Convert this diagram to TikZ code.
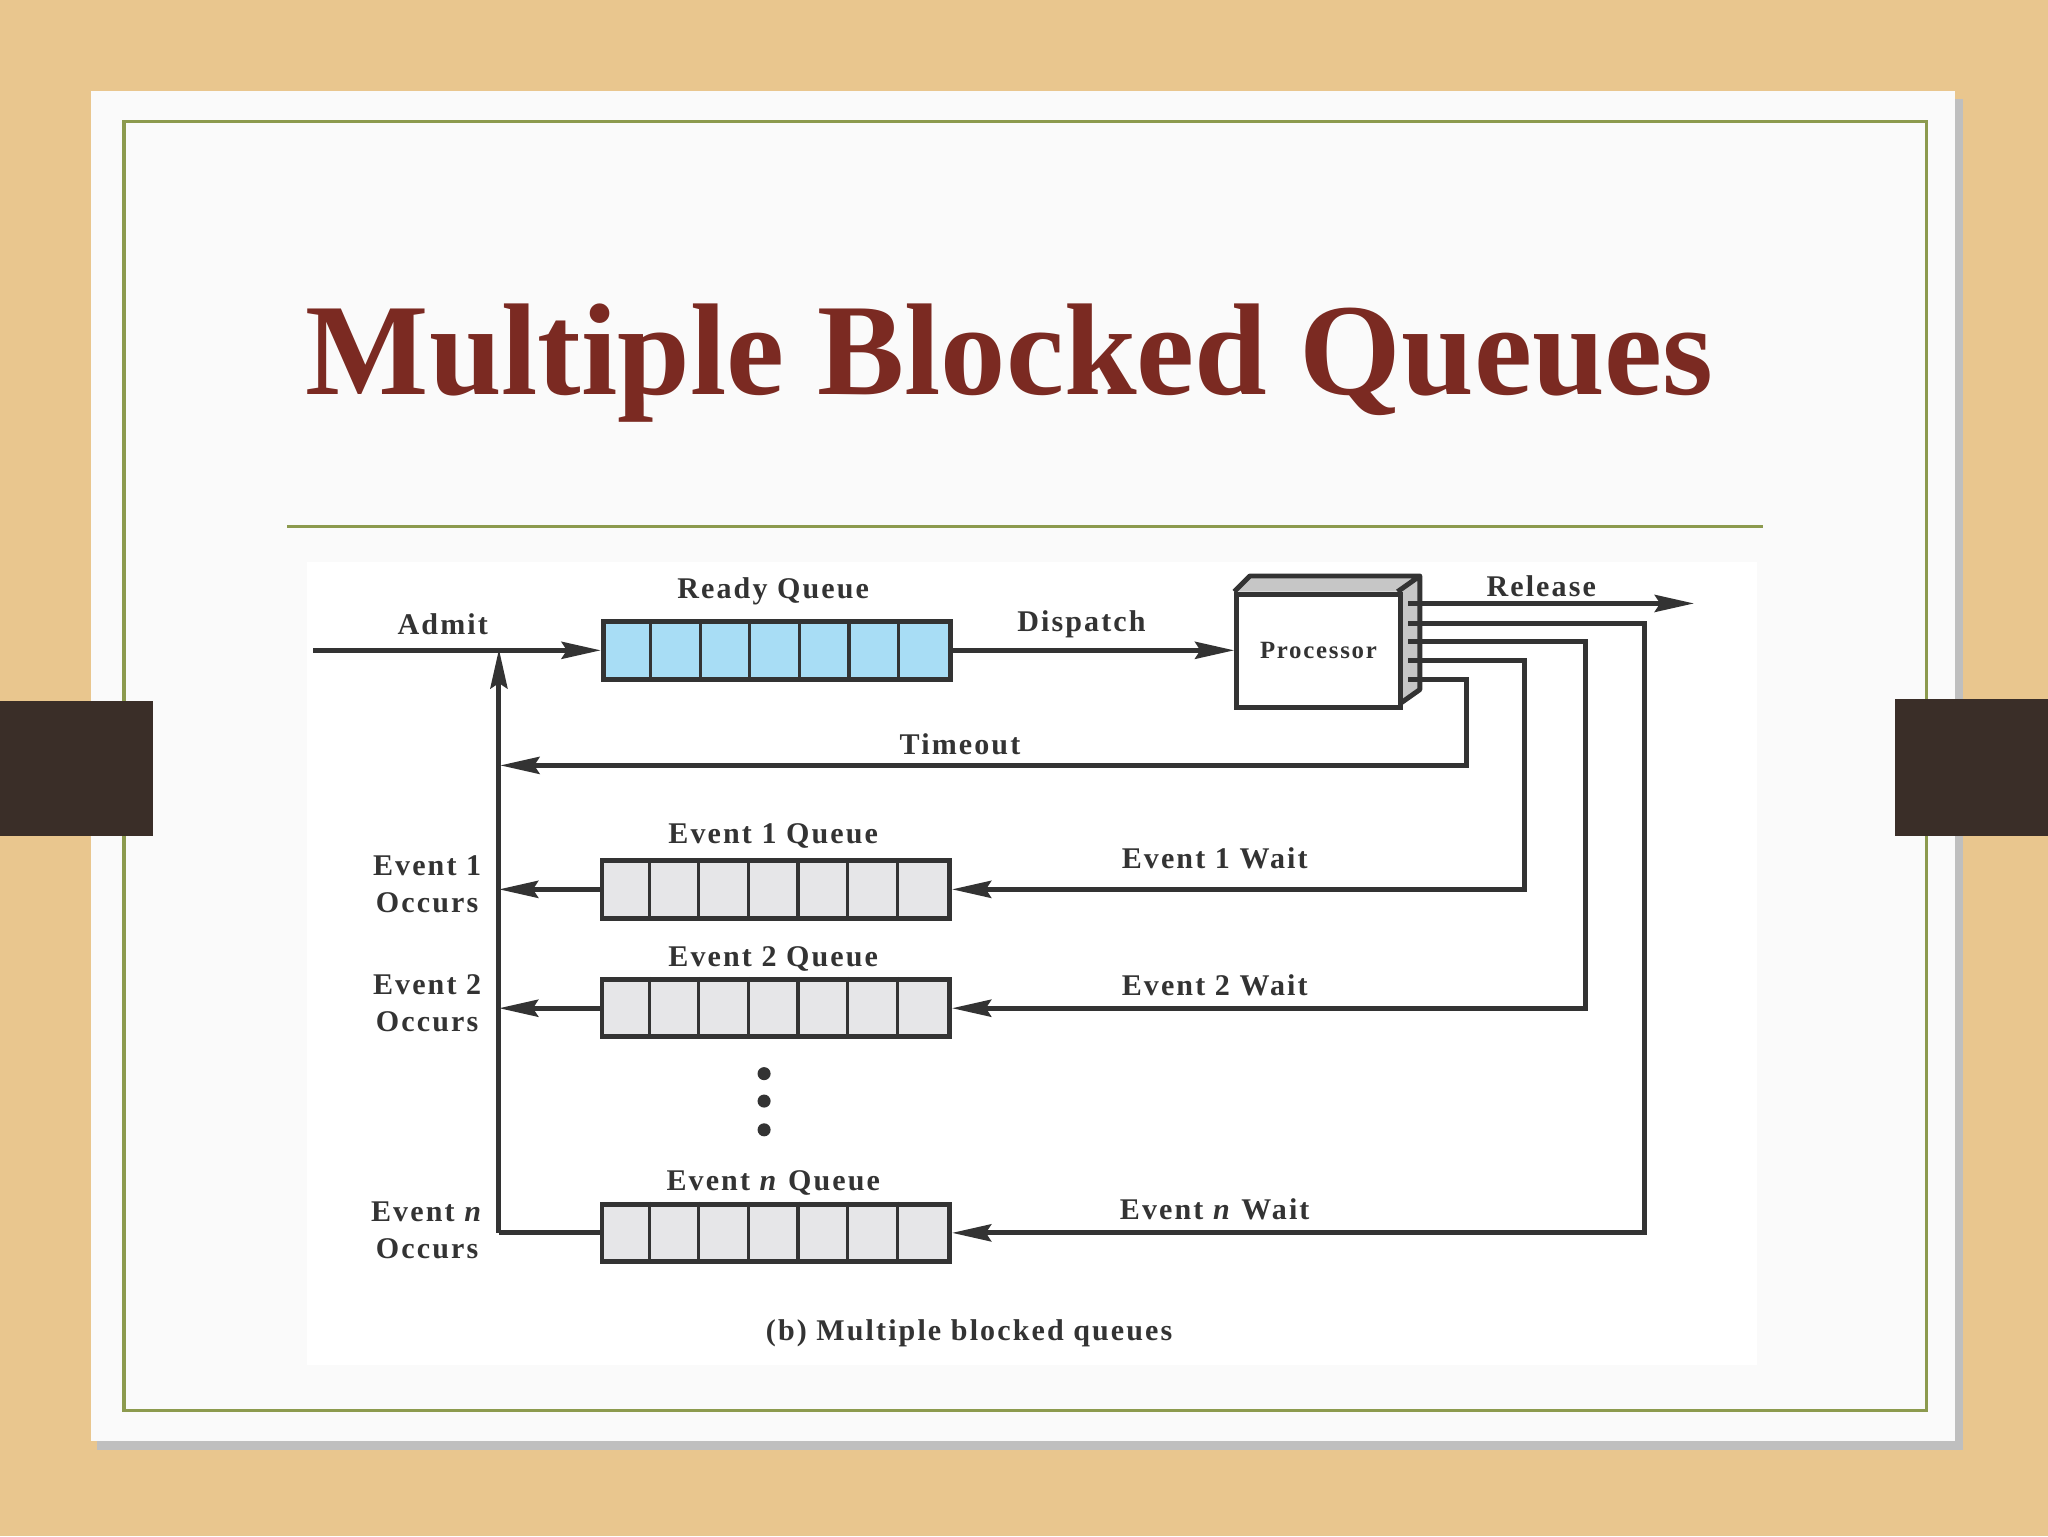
\documentclass[tikz,border=0pt]{standalone}
\usepackage{fontspec}
\setmainfont{Liberation Serif}
\newfontfamily\widefont[LetterSpace=7]{Liberation Serif}
\usetikzlibrary{arrows.meta,calc}
\definecolor{wood}{HTML}{E9C68E}
\definecolor{olive}{HTML}{8C9A4E}
\definecolor{titlered}{HTML}{7B2A22}
\definecolor{clipcol}{HTML}{3A2E28}
\definecolor{ln}{HTML}{333333}
\definecolor{qblue}{HTML}{A8DDF5}
\definecolor{qgray}{HTML}{E6E6E8}
\tikzset{
  wire/.style={draw=ln,line width=3.8pt},
  arr/.style={wire,-{Stealth[length=30pt,width=13pt,inset=4pt]}},
  lbl/.style={font=\widefont\bfseries\fontsize{23}{26}\selectfont,text=ln,inner sep=0pt},
  qbox/.style={draw=ln,line width=3.8pt,minimum width=266pt,minimum height=44pt,inner sep=0pt},
}
\begin{document}
\begin{tikzpicture}[x=1pt,y=-1pt]
\useasboundingbox (0,0) rectangle (1568,1176);
\fill[wood] (0,0) rectangle (1568,1176);
\fill[black!25] (74,76) rectangle (1503,1110);
\fill[white!96!gray] (70,70) rectangle (1497,1103);
\draw[olive,line width=2.5pt] (95,93) rectangle (1475,1080);
\node[font=\bfseries\fontsize{100}{110}\selectfont,text=titlered] (title) at (773,278) {Multiple Blocked Queues};
\draw[olive,line width=2pt] (220,403) -- (1350,403);
\fill[clipcol] (0,537) rectangle (117,640);
\fill[clipcol] (1451,535) rectangle (1568,640);
\fill[white] (235,430) rectangle (1345,1045);
% queues
\node[qbox,fill=qblue,anchor=north west] (rq) at (460,474) {};
\node[qbox,fill=qgray,anchor=north west] (q1) at (459,657) {};
\node[qbox,fill=qgray,anchor=north west] (q2) at (459,748) {};
\node[qbox,fill=qgray,anchor=north west] (qn) at (459,920) {};
\foreach \q in {rq,q1,q2,qn}{
  \foreach \i in {1,...,6}{
    \draw[ln,line width=2.4pt] ($(\q.north west)+(38*\i,0)$) -- ($(\q.south west)+(38*\i,0)$);
  }
}
% processor
\fill[gray!45] (945,453) -- (957,441) -- (1087,441) -- (1070,453) -- cycle;
\fill[gray!45] (1070,453) -- (1087,441) -- (1087,528) -- (1070,540) -- cycle;
\draw[ln,line width=3.8pt,line join=round] (945,453) -- (957,441) -- (1087,441) -- (1087,528) -- (1070,540) (1070,453) -- (1087,441);
\node[draw=ln,line width=3.8pt,fill=white,minimum width=125pt,minimum height=87pt,anchor=north west,inner sep=0pt] (proc) at (945,453) {};
\node[lbl,font=\widefont\bfseries\fontsize{19}{22}\selectfont] (proct) at (proc.center) {Processor};
% coordinates
\coordinate (adm) at (240,495.5);
\coordinate (rel) at (1297,462);
\coordinate (p1) at (1078,462);
\coordinate (p2) at (1078,477);
\coordinate (p3) at (1078,491);
\coordinate (p4) at (1078,506);
\coordinate (p5) at (1078,520);
\coordinate (vtop) at (382,497);
\coordinate (vbot) at (382,942);
\coordinate (tout) at (383,586);
% connectors
\draw[arr] (adm |- rq.west) -- (rq.west);
\draw[arr] (rq.east) -- (rq.east -| proc.west);
\draw[arr] (p1) -- (rel);
\draw[arr] (p2) -- (1259,477) |- (qn.east);
\draw[arr] (p3) -- (1214,491) |- (q2.east);
\draw[arr] (p4) -- (1167,506) |- (q1.east);
\draw[arr] (p5) -- (1123,520) |- (tout);
\draw[wire] (qn.west) -- (qn.west -| vbot);
\draw[arr] (qn.west -| vbot) -- (vtop);
\draw[arr] (q1.west) -- (q1.west -| vbot);
\draw[arr] (q2.west) -- (q2.west -| vbot);
% labels
\node[lbl] (ladm) at (339,478) {Admit};
\node[lbl] (lrq) at (592,453) {Ready Queue};
\node[lbl] (ldis) at (828,478) {Dispatch};
\node[lbl] (lrel) at (1180,449) {Release};
\node[lbl] (lto) at (735,570) {Timeout};
\node[lbl] (l1q) at (592,640) {Event 1 Queue};
\node[lbl] (l2q) at (592,734) {Event 2 Queue};
\node[lbl] (lnq) at (592,906) {Event \textit{n} Queue};
\node[lbl] (l1w) at (930,657) {Event 1 Wait};
\node[lbl] (l2w) at (930,754) {Event 2 Wait};
\node[lbl] (lnw) at (930,926) {Event \textit{n} Wait};
\node[lbl,align=center] (l1o) at (327,677) {Event 1\\[2pt]Occurs};
\node[lbl,align=center] (l2o) at (327,768) {Event 2\\[2pt]Occurs};
\node[lbl,align=center] (lno) at (327,942) {Event \textit{n}\\[2pt]Occurs};
\foreach \y in {822,843,865}{\fill[ln] (585,\y) circle (5pt);}
\node[lbl] (cap) at (742,1021) {(b) Multiple blocked queues};
\end{tikzpicture}
\end{document}
